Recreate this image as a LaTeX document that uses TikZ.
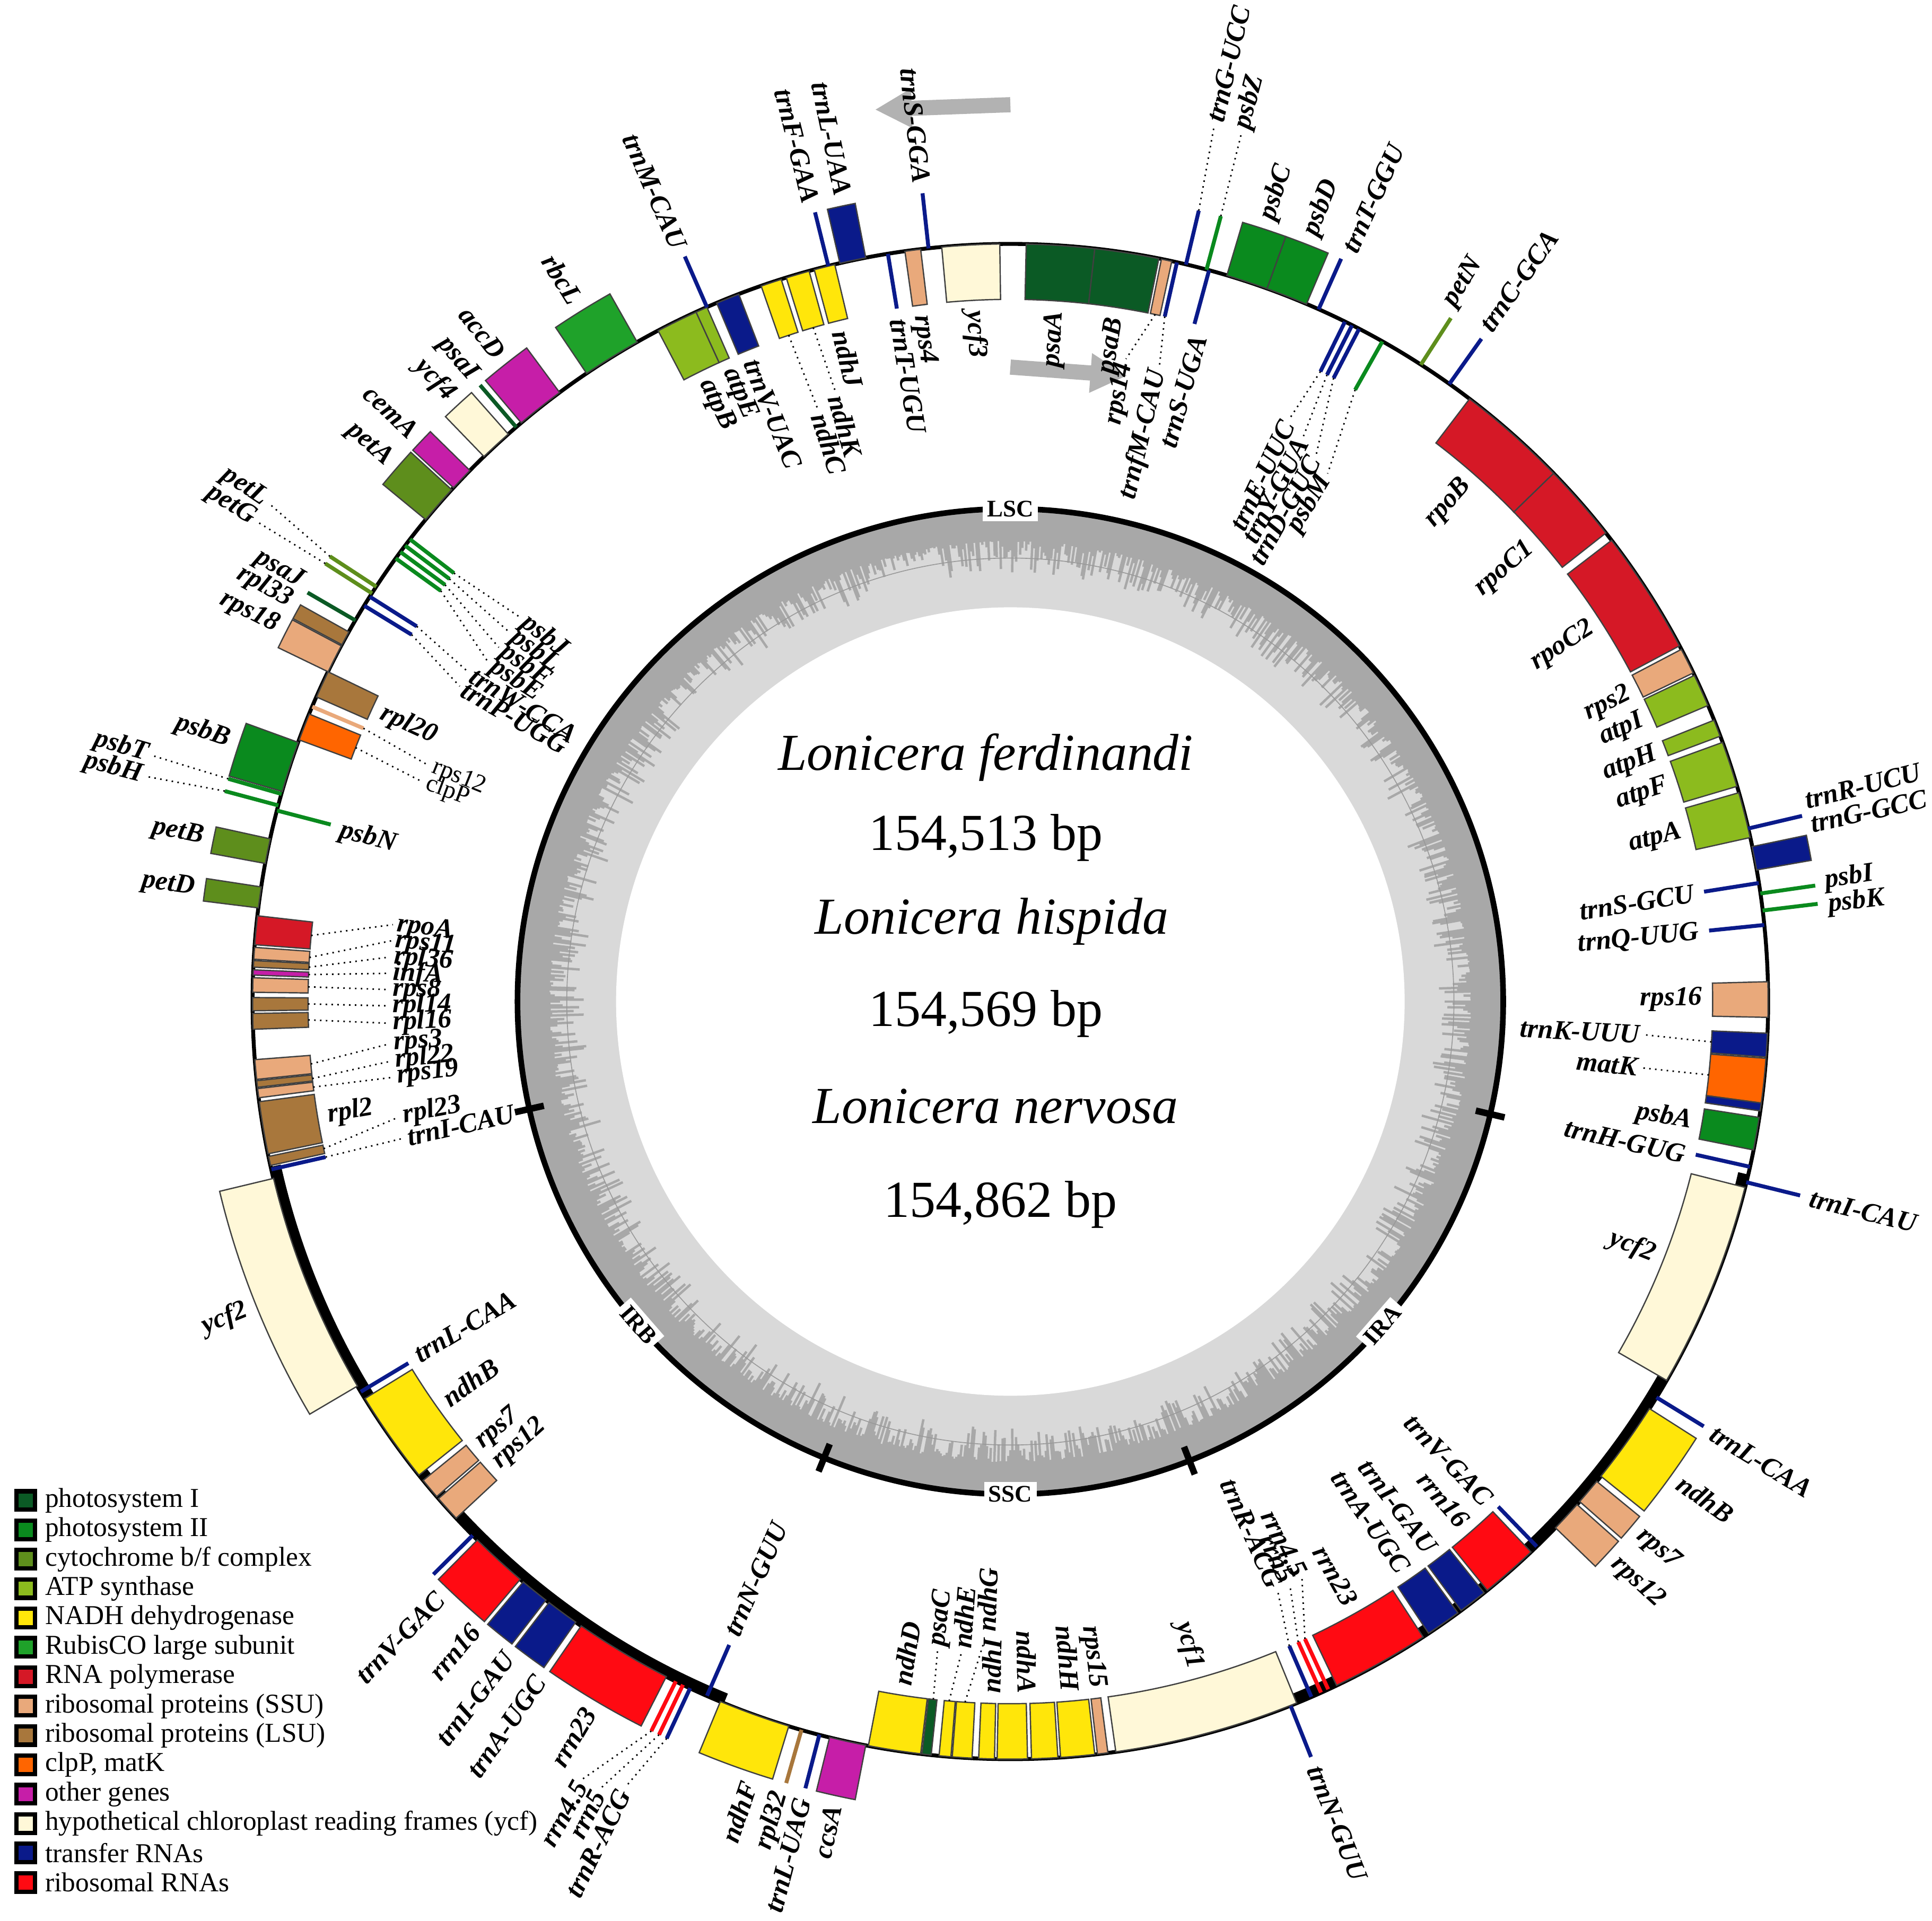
\documentclass[tikz,border=0pt]{standalone}
\usepackage{fontspec}
\setmainfont{Liberation Serif}
\usetikzlibrary{arrows.meta}
\definecolor{psI}{HTML}{0B5A25}
\definecolor{psII}{HTML}{0A8A1E}
\definecolor{cyt}{HTML}{5E8E1C}
\definecolor{atp}{HTML}{8CBB1E}
\definecolor{ndh}{HTML}{FFE60A}
\definecolor{rbc}{HTML}{1FA22A}
\definecolor{rpo}{HTML}{D51826}
\definecolor{ssu}{HTML}{E9A97B}
\definecolor{lsu}{HTML}{A8773C}
\definecolor{clp}{HTML}{FF6500}
\definecolor{oth}{HTML}{C61EA8}
\definecolor{ycf}{HTML}{FFF8D8}
\definecolor{trna}{HTML}{0A1A8A}
\definecolor{rrna}{HTML}{FF0A12}
\definecolor{gcd}{HTML}{A8A8A8}
\definecolor{gcl}{HTML}{D9D9D9}
\newcommand\gb[4]{%
 \if#3o\def\ra{6.15}\def\rb{6.60}\else\def\ra{5.70}\def\rb{6.15}\fi
 \filldraw[fill=#4,draw=black!75,line width=0.3pt] ({90-#1}:\ra) arc[start angle={90-#1},end angle={90-#2},radius=\ra] -- ({90-#2}:\rb) arc[start angle={90-#2},end angle={90-#1},radius=\rb] -- cycle;}
\newcommand\gl[3]{%
 \if#2o\def\ra{6.15}\def\rb{6.60}\else\def\ra{5.70}\def\rb{6.15}\fi
 \draw[#3,line width=0.9pt] ({90-#1}:\ra) -- ({90-#1}:\rb);}
\newcommand\lab[4]{%
 \pgfmathtruncatemacro\rside{(#1<180)?1:0}%
 \pgfmathsetmacro\lrot{\rside==1 ? 90-#1 : 270-#1}%
 \if#2o\ifnum\rside=1 \def\lanc{west}\else\def\lanc{east}\fi
 \else\ifnum\rside=1 \def\lanc{east}\else\def\lanc{west}\fi\fi
 \node[glab,rotate=\lrot,anchor=\lanc] at ({90-#1}:#3) {#4};}
\newcommand\ld[4]{\draw[densely dotted,line width=0.35pt] ({90-#1}:#2) -- ({90-#3}:#4);}
\tikzset{glab/.style={font=\fontsize{6.3}{7}\selectfont\bfseries\itshape,inner sep=0.8pt},
 legbox/.style={draw=black,line width=1pt,minimum size=0.15cm,inner sep=0pt},
 legtxt/.style={font=\fontsize{6.3}{7}\selectfont,anchor=west,inner sep=0pt},
 title/.style={font=\fontsize{12}{14}\selectfont},
 reglab/.style={font=\fontsize{5.5}{6}\selectfont\bfseries,fill=white,inner sep=1pt}}
\begin{document}
\begin{tikzpicture}
\useasboundingbox (-8.20,-7.46) rectangle (7.48,8.13);
% GC ring
\fill[gcl] (0,0) circle (4.0);
\fill[white] (0,0) circle (3.2);
\pgfmathsetseed{7}
\foreach \i in {0,...,1439}{\pgfmathsetmacro\dd{0.26+0.28*rnd^2}
 \draw[gcd,line width=0.55pt] ({\i*0.25}:4.0) -- ({\i*0.25}:{4.0-\dd});}
\draw[black!40,line width=0.2pt] (0,0) circle (3.6);
\draw[black,line width=1.3pt] (0,0) circle (4.0);
\foreach \t in {103.2,158.7,202.2,257.4}{\draw[line width=1.5pt] ({90-\t}:3.88) -- ({90-\t}:4.12);}
\node[reglab] (lsc) at (90:4.0) {LSC};
\node[reglab] (ssc) at (-90:4.0) {SSC};
\node[reglab,rotate=49] (ira) at ({90-131}:4.0) {IRA};
\node[reglab,rotate=-49] (irb) at ({90-229}:4.0) {IRB};
% centre text
\node[title,font=\fontsize{12}{14}\selectfont\itshape] (t1) at (-0.2,1.98) {Lonicera ferdinandi};
\node[title] (t2) at (-0.2,1.33) {154,513 bp};
\node[title,font=\fontsize{12}{14}\selectfont\itshape] (t3) at (-0.15,0.65) {Lonicera hispida};
\node[title] (t4) at (-0.2,-0.10) {154,569 bp};
\node[title,font=\fontsize{12}{14}\selectfont\itshape] (t5) at (-0.12,-0.85) {Lonicera nervosa};
\node[title] (t6) at (-0.08,-1.65) {154,862 bp};
% main circle and IRs
\draw[line width=0.9pt] (0,0) circle (6.15);
\draw[line width=2.4pt] ({90-103.2}:6.11) arc[start angle={90-103.2},end angle={90-158.7},radius=6.11];
\draw[line width=2.4pt] ({90-202.2}:6.11) arc[start angle={90-202.2},end angle={90-257.4},radius=6.11];
% arrows
\coordinate (a1) at (0,7.28); \coordinate (a2) at (-1.1,7.24);
\draw[gray!60,line width=3.5pt,-{Triangle[length=0.3cm,width=0.3cm]}] (a1) -- (a2);
\coordinate (b1) at (0,5.15); \coordinate (b2) at (0.95,5.08);
\draw[gray!60,line width=3.5pt,-{Triangle[length=0.3cm,width=0.3cm]}] (b1) -- (b2);
% genes LSC top/right
\gl{353.8}{o}{trna}
\gb{354.8}{359.2}{i}{ycf}
\gb{1.2}{6.4}{i}{psI}
\gb{6.4}{11.3}{i}{psI}
\gb{11.5}{12.3}{i}{ssu}
\gl{12.7}{i}{trna}
\gl{15.2}{i}{trna}
\gl{13.4}{o}{trna}
\gl{15}{o}{psII}
\gb{16.6}{19.8}{o}{psII}
\gb{19.8}{23}{o}{psII}
\gl{24}{o}{trna}
\gl{26.2}{i}{trna}\gl{26.8}{i}{trna}\gl{27.4}{i}{trna}
\gl{29.4}{i}{psII}
\gl{32.8}{o}{cyt}
\gl{35.4}{o}{trna}
\gb{37.3}{45.8}{i}{rpo}
\gb{45.8}{51.8}{i}{rpo}
\gb{52.5}{62}{i}{rpo}
\gb{62.3}{64.3}{i}{ssu}
\gb{64.5}{67}{i}{atp}
\gb{68.2}{69.5}{i}{atp}
\gb{70}{73.5}{i}{atp}
\gb{74}{77.5}{i}{atp}
\gl{76.8}{o}{trna}
\gb{78.2}{80}{o}{trna}
\gl{81}{i}{trna}
\gl{84.2}{i}{trna}
\gl{81.8}{o}{psII}
\gl{83.1}{o}{psII}
\gb{88.5}{91.2}{i}{ssu}
\gb{92.4}{94.2}{i}{trna}
\gb{94.3}{97.7}{i}{clp}
\gb{97.7}{98.3}{i}{trna}
\gb{98.8}{101.3}{i}{psII}
\gl{102.6}{i}{trna}
\gl{103.8}{o}{trna}
% IRA
\gb{104.2}{120}{i}{ycf}
\gl{121.5}{o}{trna}
\gb{122.5}{128.8}{o}{ndh}
\gb{129.3}{131.3}{o}{ssu}
\gb{131.6}{134}{o}{ssu}
\gl{136}{i}{trna}
\gb{136.6}{141}{i}{rrna}
\gb{141.3}{143.5}{i}{trna}
\gb{143.8}{146.5}{i}{trna}
\gb{147}{154.5}{i}{rrna}
\gl{155.2}{i}{rrna}\gl{155.8}{i}{rrna}\gl{156.6}{i}{trna}
\gl{158.3}{o}{trna}
% SSC
\gb{157.8}{172}{i}{ycf}
\gb{172.6}{173.4}{i}{ssu}
\gb{173.6}{176.2}{i}{ndh}
\gb{176.4}{178.4}{i}{ndh}
\gb{178.7}{181}{i}{ndh}
\gb{181.2}{182.4}{i}{ndh}
\gb{182.9}{184.4}{i}{ndh}
\gb{184.5}{185.4}{i}{ndh}
\gb{186}{186.7}{i}{psI}
\gb{186.8}{190.8}{i}{ndh}
\gb{191}{193.8}{o}{oth}
\gl{194.6}{o}{trna}
\gl{196}{o}{lsu}
\gb{197}{202.5}{o}{ndh}
% IRB
\gl{203.6}{i}{trna}
\gl{205}{o}{trna}\gl{205.6}{o}{rrna}\gl{206.2}{o}{rrna}
\gb{207}{214.5}{o}{rrna}
\gb{215}{217.5}{o}{trna}
\gb{217.8}{220}{o}{trna}
\gb{220.3}{224.7}{o}{rrna}
\gl{225.2}{o}{trna}
\gb{227}{229}{i}{ssu}
\gb{229.2}{230.8}{i}{ssu}
\gb{231.3}{238.4}{i}{ndh}
\gl{239}{i}{trna}
\gb{239.5}{256.5}{o}{ycf}
\gl{257.2}{i}{trna}
% LSC left
\gb{257.5}{258.2}{i}{lsu}
\gb{258.4}{262.4}{i}{lsu}
\gb{262.7}{263.4}{i}{ssu}
\gb{263.5}{264}{i}{lsu}
\gb{264.1}{265.6}{i}{ssu}
\gb{267.9}{269.1}{i}{lsu}
\gb{269.3}{270.3}{i}{lsu}
\gb{270.7}{271.8}{i}{ssu}
\gb{272}{272.4}{i}{oth}
\gb{272.6}{273.1}{i}{lsu}
\gb{273.2}{274.1}{i}{ssu}
\gb{274.3}{276.5}{i}{rpo}
\gb{277.1}{278.7}{o}{cyt}
\gb{280.5}{282.4}{o}{cyt}
\gl{284.6}{i}{psII}
\gl{285}{o}{psII}
\gl{285.9}{o}{psII}
\gb{286.1}{290}{o}{psII}
\gb{290.2}{292.3}{i}{clp}
\gl{292.9}{i}{ssu}
\gb{293.7}{295.8}{i}{lsu}
\gb{295.8}{298}{o}{ssu}
\gb{298.1}{299.2}{o}{lsu}
\gl{300.2}{o}{psI}
\gl{301.5}{i}{trna}\gl{302.3}{i}{trna}
\gl{302.6}{o}{cyt}\gl{303.2}{o}{cyt}
\gl{305.8}{i}{psII}\gl{306.4}{i}{psII}\gl{307}{i}{psII}\gl{307.6}{i}{psII}
\gb{309.5}{312.5}{o}{cyt}
\gb{312.7}{314.5}{o}{oth}
\gb{316}{318.5}{o}{ycf}
\gl{319.3}{o}{psI}
\gb{319.8}{323.5}{o}{oth}
\gb{326}{330.5}{o}{rbc}
\gb{332.3}{335.5}{i}{atp}
\gb{335.5}{336.4}{i}{atp}
\gl{336.4}{o}{trna}
\gb{337.2}{339}{i}{trna}
\gb{340.8}{342.4}{i}{ndh}
\gb{342.8}{344.6}{i}{ndh}
\gb{345}{346.6}{i}{ndh}
\gl{346.1}{o}{trna}
\gb{347}{349}{o}{trna}
\gl{350.7}{i}{trna}
\gb{352}{353.2}{i}{ssu}
% outside labels
\lab{353.8}{o}{6.65}{trnS-GGA}
\lab{348.3}{o}{6.65}{trnL-UAA}
\lab{346}{o}{6.65}{trnF-GAA}
\lab{336.3}{o}{6.65}{trnM-CAU}
\lab{328.2}{o}{6.65}{rbcL}
\lab{321.7}{o}{6.65}{accD}
\lab{319.3}{o}{6.65}{psaI}
\lab{317.2}{o}{6.65}{ycf4}
\lab{313.6}{o}{6.65}{cemA}
\lab{311}{o}{6.65}{petA}
\ld{303.2}{6.6}{303.9}{7.25}\lab{303.9}{o}{7.25}{petL}
\ld{302.6}{6.6}{302.5}{7.25}\lab{302.5}{o}{7.25}{petG}
\lab{300.6}{o}{6.65}{psaJ}
\lab{299.1}{o}{6.65}{rpl33}
\lab{297.1}{o}{6.65}{rps18}
\lab{288.5}{o}{6.65}{psbB}
\ld{285.9}{6.6}{286}{7.25}\lab{286}{o}{7.25}{psbT}
\ld{285}{6.6}{284.6}{7.25}\lab{284.6}{o}{7.25}{psbH}
\lab{281.5}{o}{6.65}{petB}
\lab{277.9}{o}{6.65}{petD}
\lab{248}{o}{6.65}{ycf2}
\lab{223.8}{o}{6.65}{trnV-GAC}
\lab{220.5}{o}{6.65}{rrn16}
\lab{217.5}{o}{6.65}{trnI-GAU}
\lab{214.8}{o}{6.65}{trnA-UGC}
\lab{210.7}{o}{6.65}{rrn23}
\ld{206.2}{6.6}{208.8}{7.2}\lab{208.8}{o}{7.2}{rrn4.5}
\ld{205.6}{6.6}{207.5}{7.2}\lab{207.5}{o}{7.2}{rrn5}
\ld{205}{6.6}{206.1}{7.1}\lab{206.1}{o}{7.1}{trnR-ACG}
\lab{198.5}{o}{6.65}{ndhF}
\lab{196.2}{o}{6.65}{rpl32}
\lab{194.6}{o}{6.65}{trnL-UAG}
\lab{192.4}{o}{6.65}{ccsA}
\lab{158.3}{o}{6.65}{trnN-GUU}
\lab{132.8}{o}{6.65}{rps12}
\lab{130.2}{o}{6.65}{rps7}
\lab{125.6}{o}{6.65}{ndhB}
\lab{121.5}{o}{6.65}{trnL-CAA}
\lab{103.8}{o}{6.65}{trnI-CAU}
\lab{83.3}{o}{6.65}{psbK}
\lab{81.6}{o}{6.65}{psbI}
\lab{77.5}{o}{6.62}{trnG-GCC}
\lab{75.8}{o}{6.62}{trnR-UCU}
\lab{35.2}{o}{6.65}{trnC-GCA}
\lab{32.2}{o}{6.65}{petN}
\lab{24.3}{o}{6.65}{trnT-GGU}
\lab{21.4}{o}{6.65}{psbD}
\lab{18.2}{o}{6.65}{psbC}
\ld{15}{6.6}{14.9}{7.3}\lab{14.9}{o}{7.3}{psbZ}
\ld{13.4}{6.6}{13.1}{7.3}\lab{13.1}{o}{7.3}{trnG-UCC}
% inside labels
\lab{357}{i}{5.65}{ycf3}
\lab{3.8}{i}{5.65}{psaA}
\lab{8.8}{i}{5.65}{psaB}
\ld{11.9}{5.7}{10.2}{5.3}\lab{10.2}{i}{5.3}{rps14}
\ld{12.7}{5.7}{13.2}{5.3}\lab{13.2}{i}{5.3}{trnfM-CAU}
\lab{15.8}{i}{5.65}{trnS-UGA}
\ld{26.2}{5.7}{25.6}{5.25}\lab{25.6}{i}{5.25}{trnE-UUC}
\ld{26.8}{5.7}{27.4}{5.17}\lab{27.4}{i}{5.17}{trnY-GUA}
\ld{27.4}{5.7}{29.2}{5.09}\lab{29.2}{i}{5.09}{trnD-GUC}
\ld{29.4}{5.7}{31}{5.0}\lab{31}{i}{5.0}{psbM}
\lab{41.3}{i}{5.65}{rpoB}
\lab{48.8}{i}{5.65}{rpoC1}
\lab{57.2}{i}{5.65}{rpoC2}
\lab{63.5}{i}{5.65}{rps2}
\lab{66}{i}{5.65}{atpI}
\lab{69}{i}{5.65}{atpH}
\lab{71.8}{i}{5.65}{atpF}
\lab{75.8}{i}{5.65}{atpA}
\lab{81}{i}{5.65}{trnS-GCU}
\lab{84.3}{i}{5.65}{trnQ-UUG}
\lab{89.8}{i}{5.65}{rps16}
\ld{93.3}{5.7}{93}{5.15}\lab{93}{i}{5.15}{trnK-UUU}
\ld{96}{5.7}{96}{5.15}\lab{96}{i}{5.15}{matK}
\lab{100}{i}{5.65}{psbA}
\lab{102.8}{i}{5.65}{trnH-GUG}
\lab{111.5}{i}{5.65}{ycf2}
\lab{136.3}{i}{5.65}{trnV-GAC}
\lab{139}{i}{5.65}{rrn16}
\lab{142.5}{i}{5.65}{trnI-GAU}
\lab{145.3}{i}{5.65}{trnA-UGC}
\lab{150.5}{i}{5.65}{rrn23}
\ld{155.2}{5.7}{153.2}{5.25}\lab{153.2}{i}{5.25}{rrn4.5}
\ld{155.8}{5.7}{154.4}{5.25}\lab{154.4}{i}{5.25}{rrn5}
\ld{156.6}{5.7}{155.6}{5.25}\lab{155.6}{i}{5.25}{trnR-ACG}
\lab{164.5}{i}{5.65}{ycf1}
\lab{172.8}{i}{5.65}{rps15}
\lab{175}{i}{5.65}{ndhH}
\lab{178.6}{i}{5.65}{ndhA}
\lab{181.6}{i}{5.65}{ndhI}
\ld{183.7}{5.7}{182.2}{5.15}\lab{182.2}{i}{5.15}{ndhG}
\ld{185}{5.7}{184.3}{5.3}\lab{184.3}{i}{5.3}{ndhE}
\ld{186.3}{5.7}{186.4}{5.3}\lab{186.4}{i}{5.3}{psaC}
\lab{189}{i}{5.65}{ndhD}
\lab{203.8}{i}{5.65}{trnN-GUU}
\lab{228}{i}{5.65}{rps12}
\lab{230.2}{i}{5.65}{rps7}
\lab{234.8}{i}{5.65}{ndhB}
\lab{239.2}{i}{5.65}{trnL-CAA}
\ld{257.2}{5.7}{257.3}{5.05}\lab{257.3}{i}{5.05}{trnI-CAU}
\ld{257.9}{5.7}{259.3}{5.05}\lab{259.3}{i}{5.05}{rpl23}
\lab{260.5}{i}{5.65}{rpl2}
\ld{263}{5.7}{263}{5.05}\lab{263}{i}{5.05}{rps19}
\ld{263.7}{5.7}{264.5}{5.05}\lab{264.5}{i}{5.05}{rpl22}
\ld{264.9}{5.7}{266.1}{5.05}\lab{266.1}{i}{5.05}{rps3}
\ld{268.5}{5.7}{268}{5.05}\lab{268}{i}{5.05}{rpl16}
\ld{269.8}{5.7}{269.6}{5.05}\lab{269.6}{i}{5.05}{rpl14}
\ld{271.2}{5.7}{271.1}{5.05}\lab{271.1}{i}{5.05}{rps8}
\ld{272.2}{5.7}{272.6}{5.05}\lab{272.6}{i}{5.05}{infA}
\ld{272.8}{5.7}{274.1}{5.05}\lab{274.1}{i}{5.05}{rpl36}
\ld{273.6}{5.7}{275.6}{5.05}\lab{275.6}{i}{5.05}{rps11}
\ld{275.4}{5.7}{277.1}{5.05}\lab{277.1}{i}{5.05}{rpoA}
\lab{284.3}{i}{5.65}{psbN}
\ld{291.2}{5.7}{290.5}{5.1}\node[font=\fontsize{5.8}{7}\selectfont,rotate={270-290.5},anchor=west,inner sep=1pt] (clpl) at ({90-290.5}:5.1) {clpP};
\ld{292.9}{5.7}{292.1}{5.1}\node[font=\fontsize{5.8}{7}\selectfont,rotate={270-292.1},anchor=west,inner sep=1pt] (rps12l) at ({90-292.1}:5.1) {rps12};
\lab{294.7}{i}{5.65}{rpl20}
\ld{302.3}{5.7}{301.3}{5.15}\lab{301.3}{i}{5.15}{trnW-CCA}
\ld{301.5}{5.7}{299.8}{5.15}\lab{299.8}{i}{5.15}{trnP-UGG}
\ld{305.8}{5.7}{303}{5.05}\lab{303}{i}{5.05}{psbE}
\ld{306.4}{5.7}{304.7}{5.05}\lab{304.7}{i}{5.05}{psbF}
\ld{307}{5.7}{306.4}{5.05}\lab{306.4}{i}{5.05}{psbL}
\ld{307.6}{5.7}{308.1}{5.05}\lab{308.1}{i}{5.05}{psbJ}
\lab{333.8}{i}{5.65}{atpB}
\lab{336}{i}{5.65}{atpE}
\lab{338}{i}{5.65}{trnV-UAC}
\ld{341.6}{5.7}{342}{5.05}\lab{342}{i}{5.05}{ndhC}
\ld{343.7}{5.7}{344}{5.15}\lab{344}{i}{5.15}{ndhK}
\lab{345.8}{i}{5.65}{ndhJ}
\lab{350.7}{i}{5.65}{trnT-UGU}
\lab{352.6}{i}{5.65}{rps4}
% legend
\foreach \c/\t [count=\k from 0] in {psI/{photosystem I},psII/{photosystem II},cyt/{cytochrome b/f complex},atp/{ATP synthase},ndh/{NADH dehydrogenase},rbc/{RubisCO large subunit},rpo/{RNA polymerase},ssu/{ribosomal proteins (SSU)},lsu/{ribosomal proteins (LSU)},clp/{clpP, matK},oth/{other genes},ycf/{hypothetical chloroplast reading frames (ycf)},trna/{transfer RNAs},rrna/{ribosomal RNAs}}{
 \node[legbox,fill=\c] (lb\k) at (-7.99,{-4.05-0.2385*\k}) {};
 \node[legtxt] (lt\k) at (-7.84,{-4.05-0.2385*\k}) {\t};}
\end{tikzpicture}
\end{document}
